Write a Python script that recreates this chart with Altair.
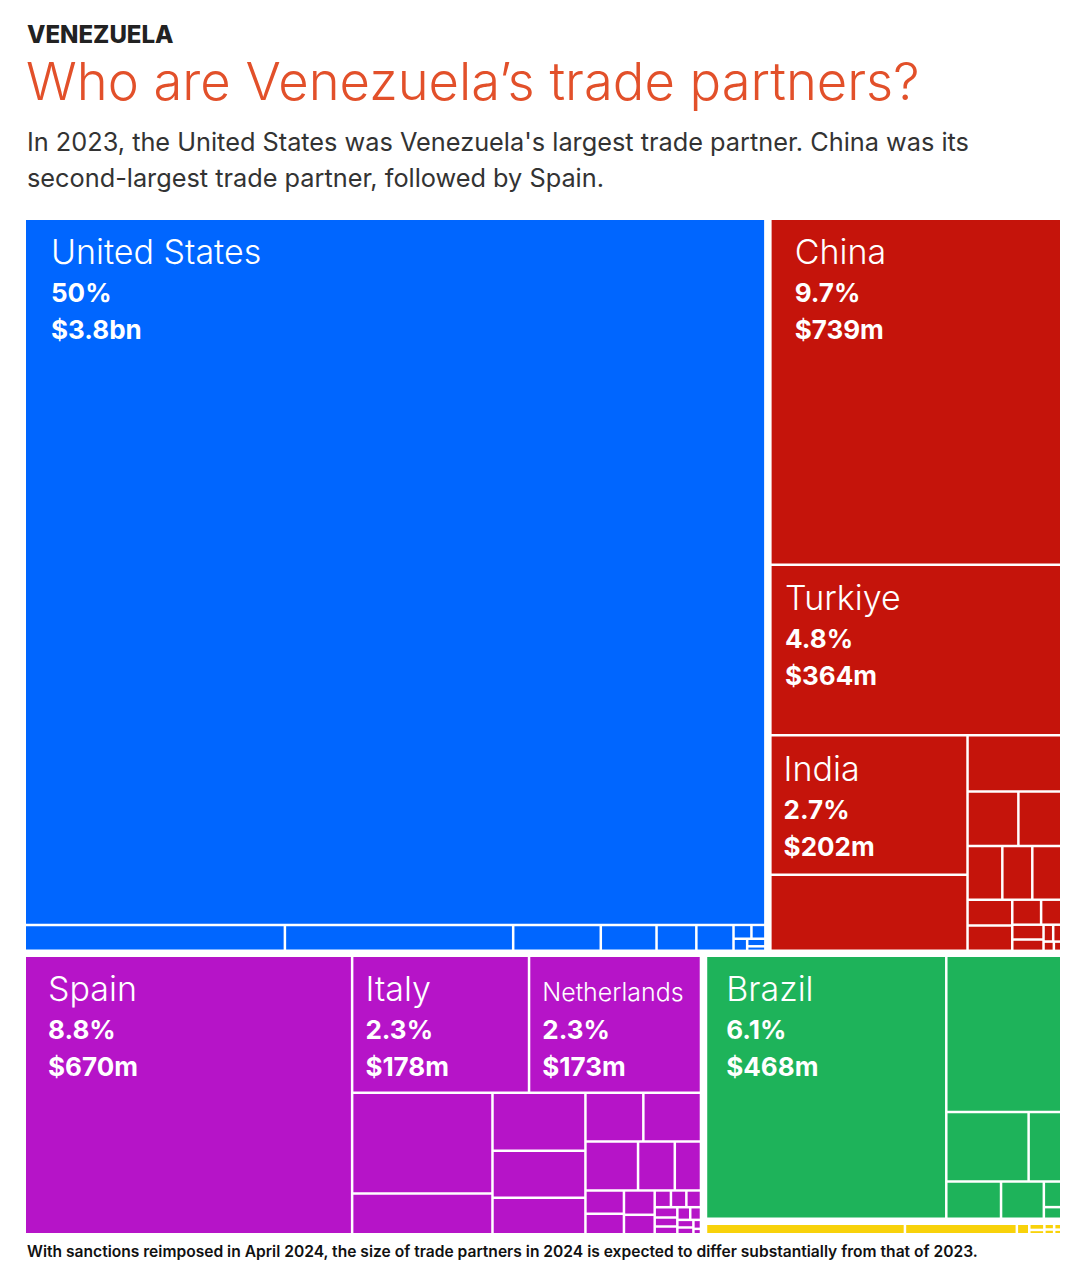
import altair as alt
import pandas as pd

# Venezuela's trade partners in 2023 (US$ millions), grouped by region
regions = ["North America", "Asia", "Europe", "South America", "Africa"]
region_colors = ["#0066FF", "#C5140B", "#B614C8", "#1EB35A", "#F8D20A"]

north_america_names = ["United States", "Mexico", "Canada", "Panama", "Dominican Republic",
                       "Trinidad and Tobago", "Guatemala", "Costa Rica", "Aruba", "Cuba",
                       "Jamaica", "Curaçao"]
north_america_values = [3800, 49, 43, 16.5, 10.5, 7.5, 7.0, 1.8, 1.4, 1.2, 1.0, 0.6]

asia_names = ["China", "Turkiye", "India", "Singapore", "Japan", "South Korea",
              "United Arab Emirates", "Vietnam", "Taiwan", "Thailand", "Indonesia",
              "Malaysia", "Israel", "Saudi Arabia", "Hong Kong", "Pakistan", "Bangladesh",
              "Sri Lanka", "Philippines", "Qatar"]
asia_values = [739, 364, 202, 110, 38.6, 20.4, 17.2, 13.7, 11.8, 11.4, 8.5, 8.3, 5.3,
               3.7, 3.4, 2.6, 1.2, 1.0, 0.7, 0.5]

europe_names = ["Spain", "Italy", "Netherlands", "Russia", "Germany", "Portugal", "France",
                "Belgium", "Switzerland", "United Kingdom", "Greece", "Poland", "Sweden",
                "Denmark", "Norway", "Ireland", "Austria", "Czechia", "Romania", "Finland",
                "Ukraine", "Croatia", "Hungary", "Slovenia", "Bulgaria", "Lithuania",
                "Malta", "Estonia", "Latvia"]
europe_values = [670, 178, 173, 104, 42, 39.6, 32.1, 25, 20.8, 20.7, 18.9, 13.2, 9.4,
                 6.6, 5.8, 5.5, 4.4, 2.0, 1.9, 1.8, 1.7, 1.5, 1.3, 1.2, 1.0, 0.9, 0.8,
                 0.5, 0.3]

south_america_names = ["Brazil", "Colombia", "Argentina", "Chile", "Ecuador", "Peru",
                       "Uruguay", "Paraguay"]
south_america_values = [468, 133, 42.4, 16.8, 15.1, 11.8, 3.3, 1.5]

africa_names = ["South Africa", "Nigeria", "Morocco", "Egypt", "Algeria", "Ghana",
                "Angola", "Senegal", "Kenya"]
africa_values = [22.4, 12.6, 1.4, 1.0, 0.7, 0.6, 0.5, 0.45, 0.35]

name_lists = [north_america_names, asia_names, europe_names, south_america_names, africa_names]
value_lists = [north_america_values, asia_values, europe_values, south_america_values,
               africa_values]

# ---- squarified treemap layout (d3-style) ----
RATIO = 1.555      # target aspect ratio of tiles
STRETCH = 1.3      # vertical weighting used when choosing row orientation
GROUP_PAD = 3.75   # half the gap between regions
CELL_PAD = 1.25    # half the gap between countries
X0, Y0, X1, Y1 = 26, 220, 1060, 1233


def squarify(values, x0, y0, x1, y1):
    rects = []
    n = len(values)
    i0 = i1 = 0
    value = float(sum(values))
    while i0 < n:
        dx = x1 - x0
        dy = (y1 - y0) * STRETCH
        sum_v = values[i1]
        i1 += 1
        min_v = max_v = sum_v
        alpha = max(dy / dx, dx / dy) / (value * RATIO)
        beta = sum_v * sum_v * alpha
        min_ratio = max(max_v / beta, beta / min_v)
        while i1 < n:
            v = values[i1]
            s = sum_v + v
            lo, hi = min(min_v, v), max(max_v, v)
            beta = s * s * alpha
            r = max(hi / beta, beta / lo)
            if r > min_ratio:
                break
            sum_v, min_v, max_v, min_ratio = s, lo, hi, r
            i1 += 1
        row = values[i0:i1]
        if dx < dy:
            y_end = y0 + (y1 - y0) * sum_v / value if i1 < n else y1
            xx = x0
            for v in row:
                w = (x1 - x0) * v / sum_v
                rects.append((xx, y0, xx + w, y_end))
                xx += w
            y0 = y_end
        else:
            x_end = x0 + (x1 - x0) * sum_v / value if i1 < n else x1
            yy = y0
            for v in row:
                h = (y1 - y0) * v / sum_v
                rects.append((x0, yy, x_end, yy + h))
                yy += h
            x0 = x_end
        value -= sum_v
        i0 = i1
    return rects


def shrink(r, p):
    return (r[0] + p, r[1] + p, r[2] - p, r[3] - p)


group_totals = [sum(v) for v in value_lists]
grand_total = sum(group_totals)
group_tiles = squarify(group_totals, X0 - GROUP_PAD, Y0 - GROUP_PAD, X1 + GROUP_PAD, Y1 + GROUP_PAD)

rows = []
for region, names, vals, tile in zip(regions, name_lists, value_lists, group_tiles):
    gx0, gy0, gx1, gy1 = shrink(tile, GROUP_PAD)
    cells = squarify(vals, gx0 - CELL_PAD, gy0 - CELL_PAD, gx1 + CELL_PAD, gy1 + CELL_PAD)
    for name, v, c in zip(names, vals, cells):
        cx0, cy0, cx1, cy1 = shrink(c, CELL_PAD)
        rows.append({"region": region, "country": name, "value": v,
                     "x0": cx0, "y0": cy0, "x1": cx1, "y1": cy1})
df = pd.DataFrame(rows)

# labels for the larger partners
lab = df[df["value"] >= 150].copy()
w = lab["x1"] - lab["x0"]
h = lab["y1"] - lab["y0"]
inset = (0.08 * pd.concat([w, h], axis=1).min(axis=1)).clip(12, 25)
lab["lx"] = lab["x0"] + inset
lab["ly_name"] = lab["y0"] + 44
lab["ly_pct"] = lab["y0"] + 82
lab["ly_val"] = lab["y0"] + 119
lab["fs"] = ((w - 2 * inset) / (0.53 * lab["country"].str.len())).clip(upper=34)
lab["pct"] = [f"{v / grand_total * 100:.2g}%" for v in lab["value"]]
lab["money"] = [f"${v / 1000:.1f}bn" if v >= 1000 else f"${v:.0f}m" for v in lab["value"]]

xs = alt.Scale(domain=[X0, X1], nice=False, zero=False)
ys = alt.Scale(domain=[Y0, Y1], nice=False, zero=False, reverse=True)
FONT = "Inter"

cells_layer = alt.Chart(df).mark_rect().encode(
    x=alt.X("x0:Q", scale=xs, axis=None),
    x2="x1:Q",
    y=alt.Y("y0:Q", scale=ys, axis=None),
    y2="y1:Q",
    color=alt.Color("region:N", scale=alt.Scale(domain=regions, range=region_colors), legend=None),
    tooltip=["country:N", "value:Q"],
)

name_layer = alt.Chart(lab).mark_text(
    align="left", baseline="alphabetic", font=FONT, fontWeight=300, color="white"
).encode(
    x=alt.X("lx:Q", scale=xs, axis=None),
    y=alt.Y("ly_name:Q", scale=ys, axis=None),
    text="country:N",
    size=alt.Size("fs:Q", scale=None, legend=None),
)

pct_layer = alt.Chart(lab).mark_text(
    align="left", baseline="alphabetic", font=FONT, fontWeight=700, fontSize=26, color="white"
).encode(
    x=alt.X("lx:Q", scale=xs, axis=None),
    y=alt.Y("ly_pct:Q", scale=ys, axis=None),
    text="pct:N",
)

money_layer = alt.Chart(lab).mark_text(
    align="left", baseline="alphabetic", font=FONT, fontWeight=700, fontSize=26, color="white"
).encode(
    x=alt.X("lx:Q", scale=xs, axis=None),
    y=alt.Y("ly_val:Q", scale=ys, axis=None),
    text="money:N",
)


def header(text, x, y, size, weight, color):
    return alt.Chart(pd.DataFrame({"t": [text]})).mark_text(
        align="left", baseline="alphabetic", font=FONT, fontSize=size,
        fontWeight=weight, color=color
    ).encode(text="t", x=alt.value(x), y=alt.value(y))


kicker = header("VENEZUELA", 1, -177, 24, 800, "#222222")
headline = header("Who are Venezuela’s trade partners?", 0, -120, 52.5, 300, "#E2502A")
deck = alt.Chart(pd.DataFrame({"t": [[
    "In 2023, the United States was Venezuela's largest trade partner. China was its",
    "second-largest trade partner, followed by Spain.",
]]})).mark_text(
    align="left", baseline="alphabetic", font=FONT, fontSize=25.3, fontWeight=400,
    color="#333333", lineHeight=36
).encode(text="t", x=alt.value(1), y=alt.value(-69))
note = header(
    "With sanctions reimposed in April 2024, the size of trade partners in 2024 is expected "
    "to differ substantially from that of 2023.",
    1, 1037, 15.6, 600, "#111111")

chart = alt.layer(
    cells_layer, name_layer, pct_layer, money_layer, kicker, headline, deck, note
).properties(
    width=1034, height=1013,
    autosize=alt.AutoSizeParams(type="none"),
    padding={"left": 26, "top": 220, "right": 21, "bottom": 41},
    background="white",
).configure_view(stroke=None)

chart.save("out.html", embed_options={"renderer": "svg", "actions": False})
